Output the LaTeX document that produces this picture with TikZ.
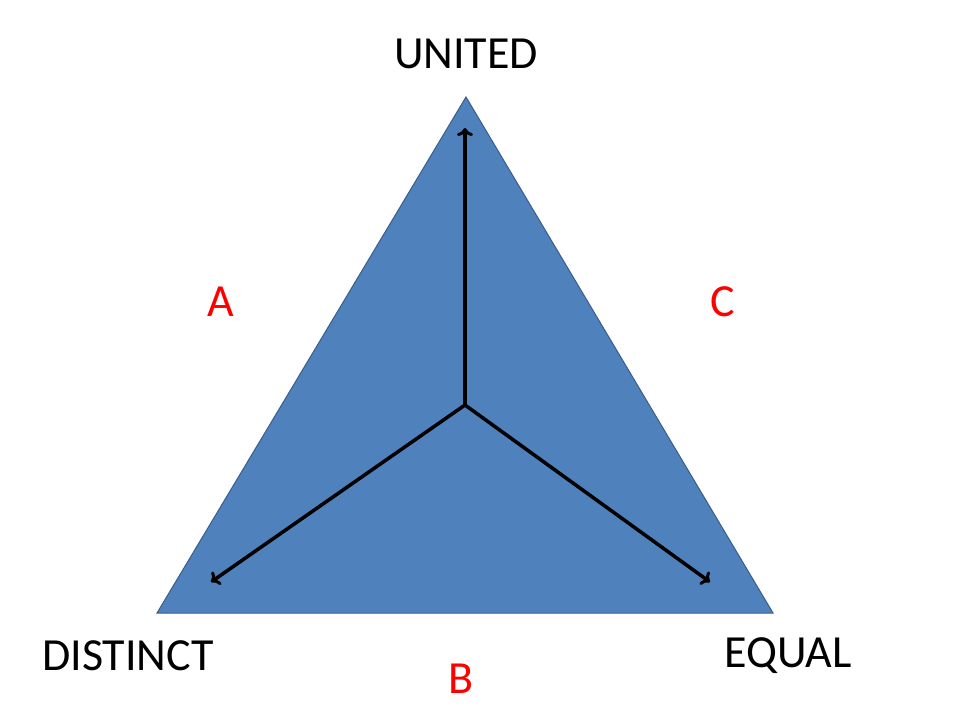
\documentclass[tikz,border=0pt]{standalone}
\usepackage{fontspec}
\setmainfont{Carlito}
\usetikzlibrary{arrows.meta}
\definecolor{tri}{HTML}{4F81BD}
\definecolor{tris}{HTML}{385D8A}
\begin{document}
\begin{tikzpicture}[x=1pt,y=-1pt,
  lab/.style={font=\fontsize{46}{50}\selectfont,inner sep=0pt},
  red/.style={lab,text=red},
  arr/.style={line width=3.5pt,-{To[length=8pt,width=16pt,line width=3pt]}}]
\useasboundingbox (0,0) rectangle (960,720);
\coordinate (top) at (466,97);
\coordinate (bl) at (157,613);
\coordinate (br) at (773,613);
\fill[tri,draw=tris,line width=1pt] (top) -- (bl) -- (br) -- cycle;
\coordinate (c) at (465,405);
\coordinate (u) at (465,128);
\coordinate (d) at (211,582);
\coordinate (e) at (710,582);
\draw[arr] (c) -- (u);
\draw[arr] (c) -- (d);
\draw[arr] (c) -- (e);
\node[lab] (nu) at (466,54) {UNITED};
\node[lab] (nd) at (128,656) {DISTINCT};
\node[lab] (ne) at (788,656) {EQUAL};
\node[red] (na) at (221,302) {A};
\node[red] (nc) at (723,302) {C};
\node[red] (nb) at (461,679) {B};
\end{tikzpicture}
\end{document}
